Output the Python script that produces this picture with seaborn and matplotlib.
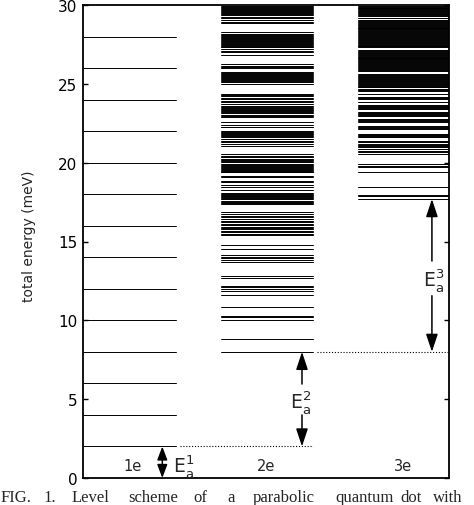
import numpy as np
import pandas as pd
import matplotlib
matplotlib.use("Agg")
import matplotlib.pyplot as plt
import seaborn as sns

# ---------------- data (meV) ----------------
columns = ["1e", "2e", "3e"]

levels_1e = [2, 4, 6, 8, 10, 12, 14, 16, 18, 20, 22, 24, 26, 28]

levels_2e = [
    8.00, 8.80, 10.04, 10.19, 10.29, 10.82, 11.62, 11.84, 11.98, 12.09, 12.19,
    12.68, 12.83, 13.68, 13.82, 13.93, 14.03, 14.14, 14.52, 14.77,
    15.41, 15.50, 15.58, 15.68, 15.79, 15.85, 15.94, 16.03, 16.12, 16.21,
    16.32, 16.42, 16.53, 16.63, 16.74, 16.85,
    17.37, 17.45, 17.52, 17.58, 17.69, 17.75, 17.81, 17.88, 17.94, 18.00,
    18.07, 18.28, 18.43, 18.58, 18.75, 18.85, 19.06, 19.17,
    19.38, 19.43, 19.49, 19.55, 19.61, 19.67, 19.73, 19.79, 19.85, 19.91,
    20.02, 20.10, 20.17, 20.23, 20.34, 20.44, 20.54,
    21.07, 21.18, 21.29, 21.39, 21.50, 21.62, 21.72, 21.78, 21.84, 21.90,
    21.96, 22.02, 22.24, 22.28, 22.40, 22.55,
    22.87, 22.97, 23.05, 23.12, 23.20, 23.30, 23.36, 23.42, 23.48, 23.54,
    23.60, 23.71, 23.82, 23.93, 24.03, 24.12, 24.20, 24.28, 24.35,
    24.98, 25.09, 25.20, 25.25, 25.31, 25.37, 25.43, 25.49, 25.55, 25.61,
    25.67, 25.73, 25.98, 26.06, 26.14, 26.25,
    26.82, 26.99, 27.10, 27.20, 27.31, 27.36, 27.42, 27.48, 27.54, 27.60,
    27.66, 27.73, 27.79, 27.84, 27.91, 27.98, 28.05, 28.09, 28.17, 28.26,
    28.83, 28.94, 29.04, 29.17, 29.25, 29.36, 29.42, 29.48, 29.55, 29.62,
    29.68, 29.74, 29.80, 29.86, 29.93,
]

levels_3e = [
    17.69, 17.86, 17.95, 18.43, 19.38, 19.70, 19.80, 19.91, 20.54, 20.65,
    20.75, 20.86, 20.97, 21.07, 21.12, 21.20, 21.33, 21.39, 21.60, 21.68,
    21.75, 21.82, 22.13, 22.20, 22.27, 22.34, 22.55, 22.66, 22.73, 22.80,
    22.97, 23.03, 23.09, 23.14, 23.19, 23.40, 23.46, 23.52, 23.58, 23.65,
    23.82, 24.03, 24.09, 24.14, 24.35, 24.56, 24.62, 24.67, 24.77, 24.83,
    24.89, 24.95, 25.01, 25.07, 25.13, 25.19, 25.25, 25.30, 25.36, 25.42,
    25.48, 25.54, 25.62, 25.83, 25.89, 25.95, 26.01, 26.07, 26.13, 26.19,
    26.25, 26.31, 26.37, 26.43, 26.49, 26.55, 26.61, 26.67, 26.73, 26.79,
    26.85, 26.91, 26.97, 27.03, 27.09, 27.16, 27.31, 27.37, 27.43, 27.49,
    27.55, 27.61, 27.67, 27.73, 27.79, 27.85, 27.91, 27.97, 28.03, 28.09,
    28.15, 28.21, 28.27, 28.33, 28.39, 28.45, 28.51, 28.57, 28.63, 28.69,
    28.75, 28.81, 28.87, 28.93, 28.99, 29.06, 29.15, 29.30, 29.36, 29.42,
    29.48, 29.54, 29.60, 29.66, 29.72, 29.78, 29.84, 29.90, 29.96,
]

y_ticks = [0, 5, 10, 15, 20, 25, 30]
caption_words = ["FIG.", "1.", "Level", "scheme", "of", "a", "parabolic",
                 "quantum", "dot", "with"]

# ---------------- layout ----------------
sns.set_theme(style="ticks")
plt.rcParams["font.family"] = ["DejaVu Sans"]
plt.rcParams["mathtext.fontset"] = "dejavusans"

W, H = 474, 506
fig = plt.figure(figsize=(W / 100, H / 100), dpi=100)
ax = fig.add_axes([83 / W, 27 / H, 366 / W, 473 / H])

spans = {"1e": (0.0, 0.76), "2e": (1.13, 1.887), "3e": (2.257, 3.0)}
label_x = {"1e": 0.41, "2e": 1.50, "3e": 2.62}

rows = []
uid = 0
for col, lv in zip(columns, [levels_1e, levels_2e, levels_3e]):
    x0, x1 = spans[col]
    for e in lv:
        rows.append((uid, col, x0, e))
        rows.append((uid, col, x1, e))
        uid += 1
df = pd.DataFrame(rows, columns=["id", "col", "x", "E"])

sns.lineplot(data=df, x="x", y="E", units="id", estimator=None, sort=False,
             color="black", lw=0.7, legend=False, ax=ax)

ax.set_xlim(0, 3)
ax.set_ylim(0, 30)
ax.set_xticks([])
ax.set_yticks(y_ticks)
ax.set_yticklabels([str(t) for t in y_ticks])
ax.set_xlabel("")
ax.set_ylabel("")
for s in ax.spines.values():
    s.set_visible(True)
    s.set_linewidth(1.3)
    s.set_color("black")
ax.tick_params(axis="y", direction="in", left=True, right=True, length=3.5,
               width=1.0, labelsize=11, pad=4, colors="black")

fig.text(29 / W, (H - 236) / H, "total energy (meV)", rotation=90,
         ha="center", va="center", fontsize=10)

for col in columns:
    ax.text(label_x[col], 0.78, col, ha="center", va="center", fontsize=10.5)

# ground states: 0 for the reference, then lowest level of each column
g1, g2, g3 = min(levels_1e), min(levels_2e), min(levels_3e)

dot = dict(ls=(0, (1, 1.6)), lw=0.8, color="black")
ax.plot([0.795, spans["2e"][1]], [g1, g1], **dot)
ax.plot([1.918, 2.99], [g2, g2], **dot)

head = "-|>,head_length=0.6,head_width=0.2"
ap = dict(arrowstyle=head, mutation_scale=18, lw=1.1, color="black",
          shrinkA=0, shrinkB=0)

# E_a^1 : double arrow 0 -> 2
ax.annotate("", xy=(0.65, g1), xytext=(0.65, 0.0),
            arrowprops=dict(arrowstyle="<|-|>,head_length=0.45,head_width=0.17",
                            mutation_scale=18, lw=1.1, color="black",
                            shrinkA=0, shrinkB=0))
# E_a^2
ax.annotate("", xy=(1.795, g2), xytext=(1.795, 5.96), arrowprops=ap)
ax.annotate("", xy=(1.795, g1), xytext=(1.795, 4.0), arrowprops=ap)
# E_a^3
ax.annotate("", xy=(2.86, g3), xytext=(2.86, 13.76), arrowprops=ap)
ax.annotate("", xy=(2.86, g2), xytext=(2.86, 11.56), arrowprops=ap)


def ea_label(x, y, n):
    ax.text(x, y, r"$\mathrm{E}_{\mathrm{a}}^{\mathrm{%d}}$" % n,
            ha="left", va="baseline", fontsize=13.5)


ea_label(0.738, 0.44, 1)
ea_label(1.697, 4.45, 2)
ea_label(2.790, 12.20, 3)

# caption along the bottom edge, as in the reference
cap_x = [1, 43, 72, 128, 193, 227, 253, 335, 400, 433]
for wd, px in zip(caption_words, cap_x):
    fig.text(px / W, 4.0 / H, wd, ha="left", va="baseline", fontsize=12,
             family=["Liberation Serif", "DejaVu Serif"])

fig.savefig("out.png", dpi=100)
